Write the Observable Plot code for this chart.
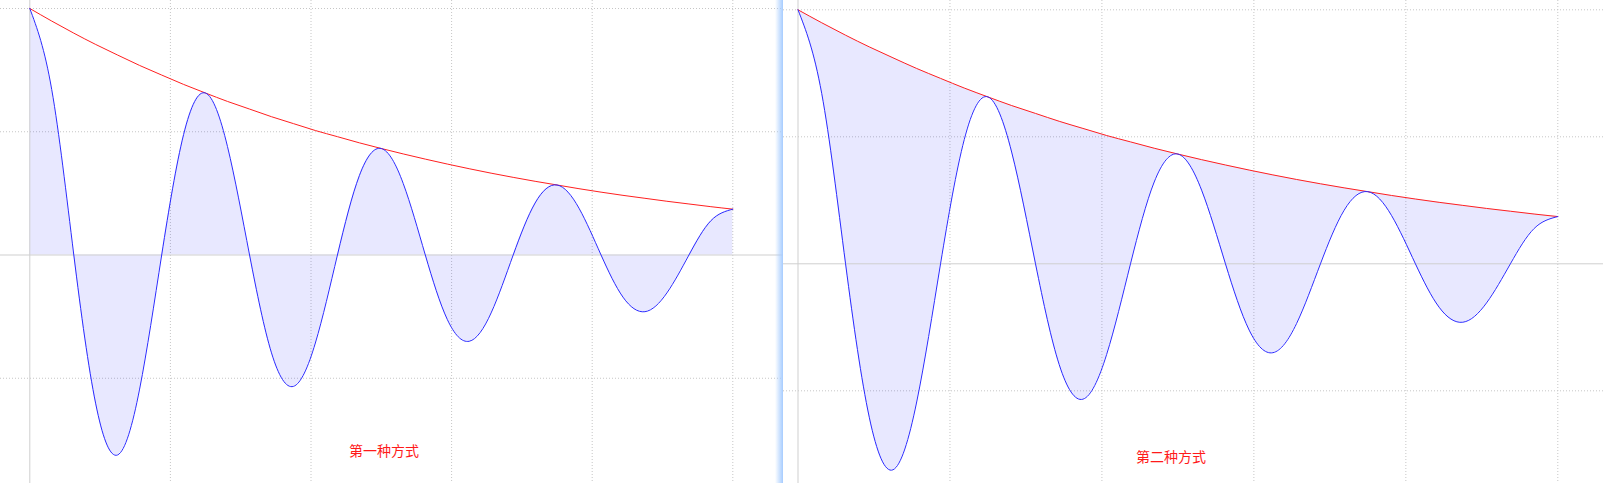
<!DOCTYPE html>
<html>
<head>
<meta charset="utf-8">
<script src="https://cdn.jsdelivr.net/npm/d3@7"></script>
<script src="https://cdn.jsdelivr.net/npm/@observablehq/plot@0.6"></script>
<style>
  html, body { margin: 0; padding: 0; background: #fff; overflow: hidden; }
  #wrap { position: relative; width: 1603px; height: 483px; overflow: hidden; background: #fff; }
  .panel { position: absolute; top: 0; }
  .caption { position: absolute; color: #ff1a1a; font-family: "Noto Sans CJK SC", sans-serif; font-size: 14px; line-height: 14px; white-space: nowrap; transform: translate(-50%, -50%); }
  #divider { position: absolute; left: 775px; top: 0; width: 8px; height: 483px;
    background: linear-gradient(to right, rgba(255,255,255,0), #a6ccff); }
</style>
</head>
<body>
<div id="wrap">
  <div id="left" class="panel" style="left:0;"></div>
  <div id="right" class="panel" style="left:783px;"></div>
  <div id="divider"></div>
  <div class="caption" style="left:384px; top:450px;">第一种方式</div>
  <div class="caption" style="left:1171px; top:456px;">第二种方式</div>
</div>
<script>
// x positions (grid units), sampled every eighth of a period
const xs = [0, 0.156, 0.313, 0.469, 0.625, 0.781, 0.938, 1.094,
            1.25, 1.406, 1.563, 1.719, 1.875, 2.031, 2.188, 2.344,
            2.5, 2.656, 2.813, 2.969, 3.125, 3.281, 3.438, 3.594,
            3.75, 3.906, 4.063, 4.219, 4.375, 4.531, 4.688, 4.844, 5];
// damped oscillation (blue)
const wave = [1.00, 0.671, 0, -0.604, -0.811, -0.544, 0, 0.489,
              0.657, 0.440, 0, -0.397, -0.533, -0.357, 0, 0.322,
              0.432, 0.290, 0, -0.261, -0.350, -0.235, 0, 0.211,
              0.284, 0.190, 0, -0.171, -0.230, -0.154, 0, 0.139, 0.186];
// envelope (red)
const envelope = [1.000, 0.949, 0.900, 0.854, 0.811, 0.769, 0.730, 0.692,
                  0.657, 0.623, 0.592, 0.561, 0.533, 0.505, 0.480, 0.455,
                  0.432, 0.410, 0.389, 0.369, 0.350, 0.332, 0.315, 0.299,
                  0.284, 0.269, 0.255, 0.242, 0.230, 0.218, 0.207, 0.196, 0.186];
const xTicks = [1, 2, 3, 4, 5];
const yTicks = [-1, -0.5, 0.5, 1];

const rows = xs.map((x, i) => ({x, wave: wave[i], env: envelope[i]}));

const gridStyle = {stroke: "#c6c6c6", strokeOpacity: 1, strokeDasharray: "1,2", strokeWidth: 1};
const axisStyle = {stroke: "#cfcfcf", strokeWidth: 1};
const fillColor = "rgba(0,0,255,0.09)";

function panel({width, height, xDomain, yDomain, between}) {
  return Plot.plot({
    width, height,
    marginTop: 0, marginRight: 0, marginBottom: 0, marginLeft: 0,
    x: {domain: xDomain, axis: null},
    y: {domain: yDomain, axis: null},
    marks: [
      Plot.gridX(xTicks, gridStyle),
      Plot.gridY(yTicks, gridStyle),
      between
        ? Plot.areaY(rows, {x: "x", y1: "wave", y2: "env", fill: fillColor, curve: "natural"})
        : Plot.areaY(rows, {x: "x", y: "wave", fill: fillColor, curve: "natural"}),
      Plot.ruleX([0], axisStyle),
      Plot.ruleY([0], axisStyle),
      Plot.line(rows, {x: "x", y: "env", stroke: "#ff2020", strokeWidth: 1, curve: "natural"}),
      Plot.line(rows, {x: "x", y: "wave", stroke: "#2a2aff", strokeWidth: 1, curve: "natural"})
    ]
  });
}

// left: x=0 at 29.3px, x=5 at 732.3px; y=1 at 8px, y=0 at 254.5px
const lw = 783, lh = 520, lkx = 140.6, lky = 246.5;
document.getElementById("left").appendChild(panel({
  width: lw, height: lh,
  xDomain: [-29.3 / lkx, (lw - 29.3) / lkx],
  yDomain: [-(lh - 254.5) / lky, 254.5 / lky],
  between: false
}));

// right: x=0 at 14.5px, x=5 at 774.3px; y=1 at 9.3px, y=0 at 263.3px
const rw = 820, rh = 540, rkx = 151.96, rky = 254;
document.getElementById("right").appendChild(panel({
  width: rw, height: rh,
  xDomain: [-14.5 / rkx, (rw - 14.5) / rkx],
  yDomain: [-(rh - 263.3) / rky, 263.3 / rky],
  between: true
}));
</script>
</body>
</html>
